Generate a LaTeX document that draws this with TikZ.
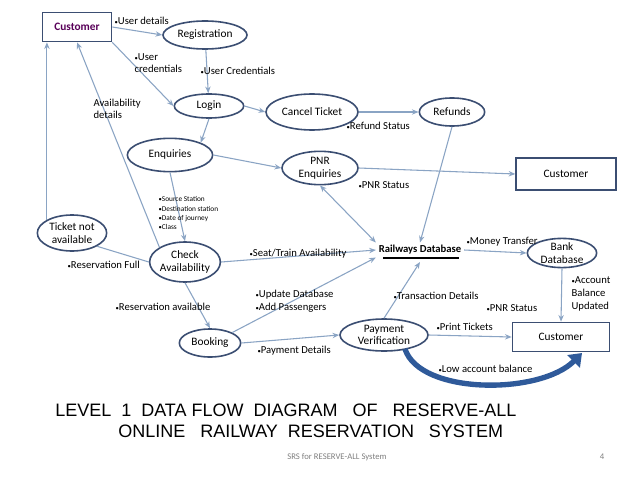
\documentclass[tikz,border=0pt]{standalone}
\usepackage{fontspec}
\setmainfont{Carlito}
\newfontfamily\footfont{Liberation Sans}
\usetikzlibrary{arrows.meta,shapes.geometric}
\definecolor{ln}{HTML}{8AA4C4}
\definecolor{bd}{HTML}{3B4E72}
\definecolor{bigblue}{HTML}{2F5A9A}
\newcommand{\bu}{{\fontsize{5}{5}\selectfont\textbullet}}
\tikzset{
  proc/.style={ellipse,draw=bd,line width=1.2pt,inner sep=0pt,align=center,font=\fontsize{8.5}{9.5}\selectfont},
  ent/.style={rectangle,draw=bd,line width=1pt,align=center,font=\fontsize{8.5}{9.5}\selectfont},
  fl/.style={draw=ln,line width=0.8pt,-{Stealth[length=5pt,width=4pt]}},
  pl/.style={draw=ln,line width=0.8pt},
  lb/.style={font=\fontsize{8}{9.5}\selectfont,align=left,inner sep=1pt},
  sm/.style={font=\fontsize{5.5}{7}\selectfont,align=left,inner sep=1pt}
}
\begin{document}
\begin{tikzpicture}[x=0.75pt,y=-0.75pt]
\useasboundingbox (0,0) rectangle (638,478);
\fill[white] (0,0) rectangle (638,478);
% nodes
\node[ent,minimum width=52pt,minimum height=22pt,text=violet!70!black] (cust) at (77,27) {\textbf{Customer}};
\node[proc,minimum width=63pt,minimum height=21pt] (reg) at (205,35) {Registration};
\node[proc,minimum width=52pt,minimum height=18pt] (login) at (209,106) {Login};
\node[proc,minimum width=69pt,minimum height=27pt] (cancel) at (312,112) {Cancel Ticket};
\node[proc,minimum width=49pt,minimum height=21pt] (ref) at (452,112) {Refunds};
\node[proc,minimum width=64pt,minimum height=25pt] (enq) at (170,155) {Enquiries};
\node[proc,minimum width=57pt,minimum height=25pt] (pnr) at (320,168) {PNR\\Enquiries};
\node[ent,minimum width=75pt,minimum height=24pt] (custr) at (566,174) {Customer};
\node[proc,minimum width=52pt,minimum height=27pt] (tna) at (72,233) {Ticket not\\available};
\node[proc,minimum width=53pt,minimum height=30pt] (chk) at (185,262) {Check\\Availability};
\node[font=\fontsize{8}{9.5}\selectfont\bfseries,inner sep=2pt] (db) at (420,250) {Railways Database};
\draw[black,line width=1.5pt] (383,258) -- (459,258);
\node[proc,minimum width=52pt,minimum height=21pt] (bank) at (562,253) {Bank\\Database};
\node[proc,minimum width=46pt,minimum height=21pt] (book) at (210,343) {Booking};
\node[proc,minimum width=66pt,minimum height=24pt] (pay) at (384,335) {Payment\\Verification};
\node[ent,minimum width=73pt,minimum height=22pt] (custb) at (561,337) {Customer};
\coordinate (dbb) at (420,262);
% flows
\draw[fl] (cust.east) -- (reg.west);
\draw[fl] (cust.south east) -- (login.west);
\draw[fl] (reg) -- (login);
\draw[fl] (login.east) -- (cancel.west);
\draw[fl] (login.south) -- (enq.north east);
\draw[fl] (cancel.east) -- (ref.west);
\draw[fl] (enq.east) -- (pnr.west);
\draw[fl] (enq.south) -- (chk.north);
\draw[fl] (pnr.east) -- (custr.west);
\draw[draw=ln,line width=0.8pt,{Stealth[length=5pt,width=4pt]}-{Stealth[length=5pt,width=4pt]}] (pnr.south) -- (db.north west);
\draw[fl] (ref.south) -- (db.north);
\draw[fl] (chk.north west) -- (cust.south);
\draw[fl] (tna.north west) -- (cust.south west -| tna.north west);
\draw[pl] (chk.west) -- (tna.south east);
\draw[fl] (chk.east) -- (db.west);
\draw[fl] (chk.south) -- (book.north);
\draw[fl] (book.north east) -- (db.south west);
\draw[fl] (book.east) -- (pay.west);
\draw[fl] (pay.north) -- (dbb);
\draw[fl] (db.east) -- (bank.west);
\draw[fl] (bank.south) -- (custb.north);
\draw[fl] (pay.east) -- (custb.west);
\draw[bigblue,line width=4pt,-{Triangle[length=9pt,width=13pt]}] (405,349) .. controls (420,395) and (540,395) .. (582,353);
% labels
\node[lb,anchor=west] at (113,21) {\bu User details};
\node[lb,anchor=west] at (133,63) {\bu User\\credentials};
\node[lb,anchor=west] at (199,71) {\bu User Credentials};
\node[lb,anchor=west] at (92,109) {Availability\\details};
\node[lb,anchor=west] at (345,126) {\bu Refund Status};
\node[lb,anchor=west] at (357,185) {\bu PNR Status};
\node[sm,anchor=north west] at (157,195) {\bu Source Station\\\bu Destination station\\\bu Date of journey\\\bu Class};
\node[lb,anchor=west] at (66,265) {\bu Reservation Full};
\node[lb,anchor=west] at (248,254) {\bu Seat/Train Availability};
\node[lb,anchor=west] at (465,242) {\bu Money Transfer};
\node[lb,anchor=west] at (570,294) {\bu Account\\Balance\\Updated};
\node[lb,anchor=west] at (114,307) {\bu Reservation available};
\node[lb,anchor=west] at (254,301) {\bu Update Database\\\bu Add Passengers};
\node[lb,anchor=west] at (392,296) {\bu Transaction Details};
\node[lb,anchor=west] at (485,308) {\bu PNR Status};
\node[lb,anchor=west] at (435,327) {\bu Print Tickets};
\node[lb,anchor=west] at (256,351) {\bu Payment Details};
\node[lb,anchor=west] at (437,369) {\bu Low account balance};
% footer
\node[anchor=west,font=\footfont\fontsize{13.5}{15}\selectfont,inner sep=0pt] (t1) at (55,410) {LEVEL\ \ 1\ \ DATA FLOW\ \ DIAGRAM\ \ \ OF\ \ \ RESERVE-ALL};
\node[anchor=west,font=\footfont\fontsize{13.5}{15}\selectfont,inner sep=0pt] (t2) at (118,431) {ONLINE\ \ \ RAILWAY\ \ RESERVATION\ \ \ SYSTEM};
\node[font=\fontsize{6.5}{8}\selectfont,text=gray] (ft) at (337,457) {SRS for RESERVE-ALL System};
\node[font=\fontsize{6.5}{8}\selectfont,text=gray] (pg) at (602,457) {4};
\end{tikzpicture}
\end{document}
